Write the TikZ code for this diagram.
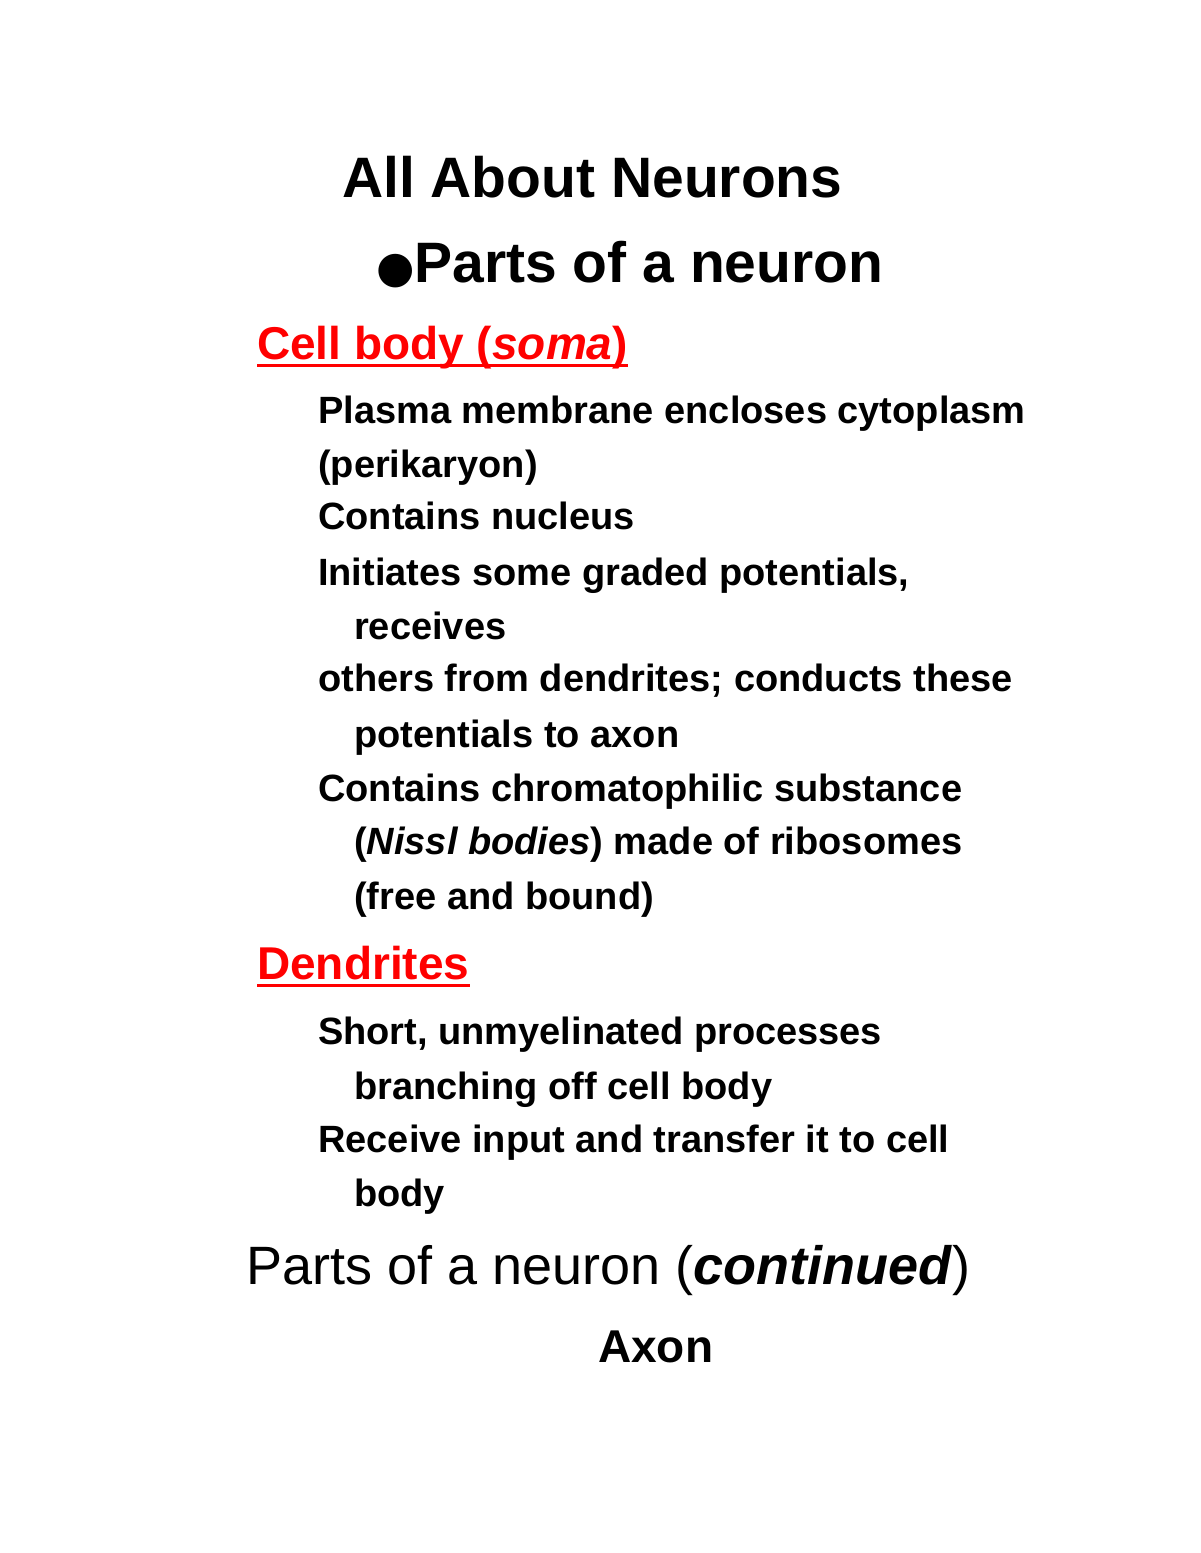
\documentclass[tikz,border=0pt]{standalone}
\usepackage{fontspec}
\setmainfont{Liberation Sans}
\newfontfamily\dejavu{DejaVu Sans}
\definecolor{redh}{RGB}{255,0,0}
\begin{document}
\begin{tikzpicture}[x=1pt,y=1pt]
\tikzset{ln/.style={anchor=base west,inner sep=0pt,font=\bfseries\fontsize{38}{40}\selectfont},
 hd/.style={anchor=base west,inner sep=0pt,text=redh,font=\bfseries\fontsize{46}{48}\selectfont},
 big/.style={anchor=base west,inner sep=0pt,font=\bfseries\fontsize{57}{60}\selectfont}}
\useasboundingbox[fill=white] (0,0) rectangle (1200,1553);
\node[big] (t) at (342,1553-198) {All About Neurons};
\node[big] (p) at (376,1553-283) {{\dejavu\fontsize{44}{46}\selectfont●}Parts of a neuron};
\node[hd] (cb) at (257,1553-360) {Cell body (\textit{soma})};
\draw[redh,line width=3pt] ([yshift=-6pt]cb.base west) -- ([yshift=-6pt]cb.base east);
\node[ln] (l1) at (318,1553-424) {Plasma membrane encloses cytoplasm};
\node[ln] (l2) at (318,1553-478) {(perikaryon)};
\node[ln] (l3) at (318,1553-530) {Contains nucleus};
\node[ln] (l4) at (318,1553-586) {Initiates some graded potentials,};
\node[ln] (l5) at (354,1553-640) {receives};
\node[ln] (l6) at (318,1553-692) {others from dendrites; conducts these};
\node[ln] (l7) at (354,1553-748) {potentials to axon};
\node[ln] (l8) at (318,1553-802) {Contains chromatophilic substance};
\node[ln] (l9) at (354,1553-855) {(\textit{Nissl bodies}) made of ribosomes};
\node[ln] (l10) at (354,1553-910) {(free and bound)};
\node[hd] (de) at (257,1553-980) {Dendrites};
\draw[redh,line width=3pt] ([yshift=-6pt]de.base west) -- ([yshift=-6pt]de.base east);
\node[ln] (m1) at (318,1553-1045) {Short, unmyelinated processes};
\node[ln] (m2) at (354,1553-1100) {branching off cell body};
\node[ln] (m3) at (318,1553-1153) {Receive input and transfer it to cell};
\node[ln] (m4) at (354,1553-1207) {body};
\node[anchor=base west,inner sep=0pt,font=\fontsize{54}{56}\selectfont] (pc) at (246,1553-1285) {Parts of a neuron (\textbf{\textit{continued}})};
\node[anchor=base west,inner sep=0pt,font=\bfseries\fontsize{46}{48}\selectfont] (ax) at (598,1553-1363) {Axon};
\end{tikzpicture}
\end{document}
